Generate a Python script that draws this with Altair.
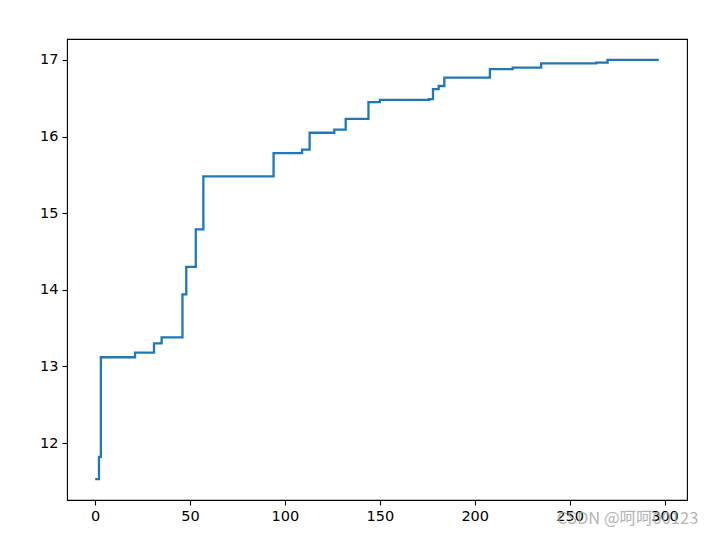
import altair as alt
import pandas as pd

# generation index where the best value changes, and the value held from there
step_x = [0, 2, 3, 21, 31, 35, 46, 48, 53, 57, 94, 109, 113, 126, 132, 144, 150,
          176, 178, 181, 184, 208, 220, 235, 264, 270, 297]
step_y = [11.53, 11.82, 13.12, 13.18, 13.30, 13.38, 13.94, 14.30, 14.79, 15.48,
          15.785, 15.83, 16.05, 16.09, 16.23, 16.45, 16.48, 16.49, 16.62, 16.66,
          16.77, 16.88, 16.90, 16.955, 16.965, 17.00, 17.00]
x_ticks = [0, 50, 100, 150, 200, 250, 300]
y_ticks = [12, 13, 14, 15, 16, 17]
watermark = "CSDN @呵呵00123"

df = pd.DataFrame({"x": step_x, "y": step_y})

line = alt.Chart(df).mark_line(
    interpolate="step-after", color="#1f77b4", strokeWidth=2.3
).encode(
    x=alt.X("x:Q", scale=alt.Scale(domain=[-14.85, 311.85], nice=False, zero=False),
            axis=alt.Axis(values=x_ticks, title=None, format="d")),
    y=alt.Y("y:Q", scale=alt.Scale(domain=[11.2565, 17.2735], nice=False, zero=False),
            axis=alt.Axis(values=y_ticks, title=None, format="d")),
)

wm = alt.Chart(pd.DataFrame({"t": [watermark]})).mark_text(
    align="left", baseline="middle", font="Noto Sans CJK SC", fontSize=16.5,
    color="#a8a8a8", opacity=0.85
).encode(text="t:N", x=alt.value(490), y=alt.value(480))

chart = alt.layer(line, wm).properties(
    width=620, height=461,
    autosize="none",
    padding={"left": 59, "top": 31, "right": 20, "bottom": 28},
    background="white",
).configure_view(
    stroke="black", strokeWidth=1.1
).configure_axis(
    domain=False, grid=False, ticks=True, tickColor="black", tickSize=5,
    tickWidth=1.1, labelFont="DejaVu Sans", labelFontSize=14.5,
    labelColor="black", labelPadding=4
)

chart.save("out.html", embed_options={"renderer": "svg", "actions": False})
